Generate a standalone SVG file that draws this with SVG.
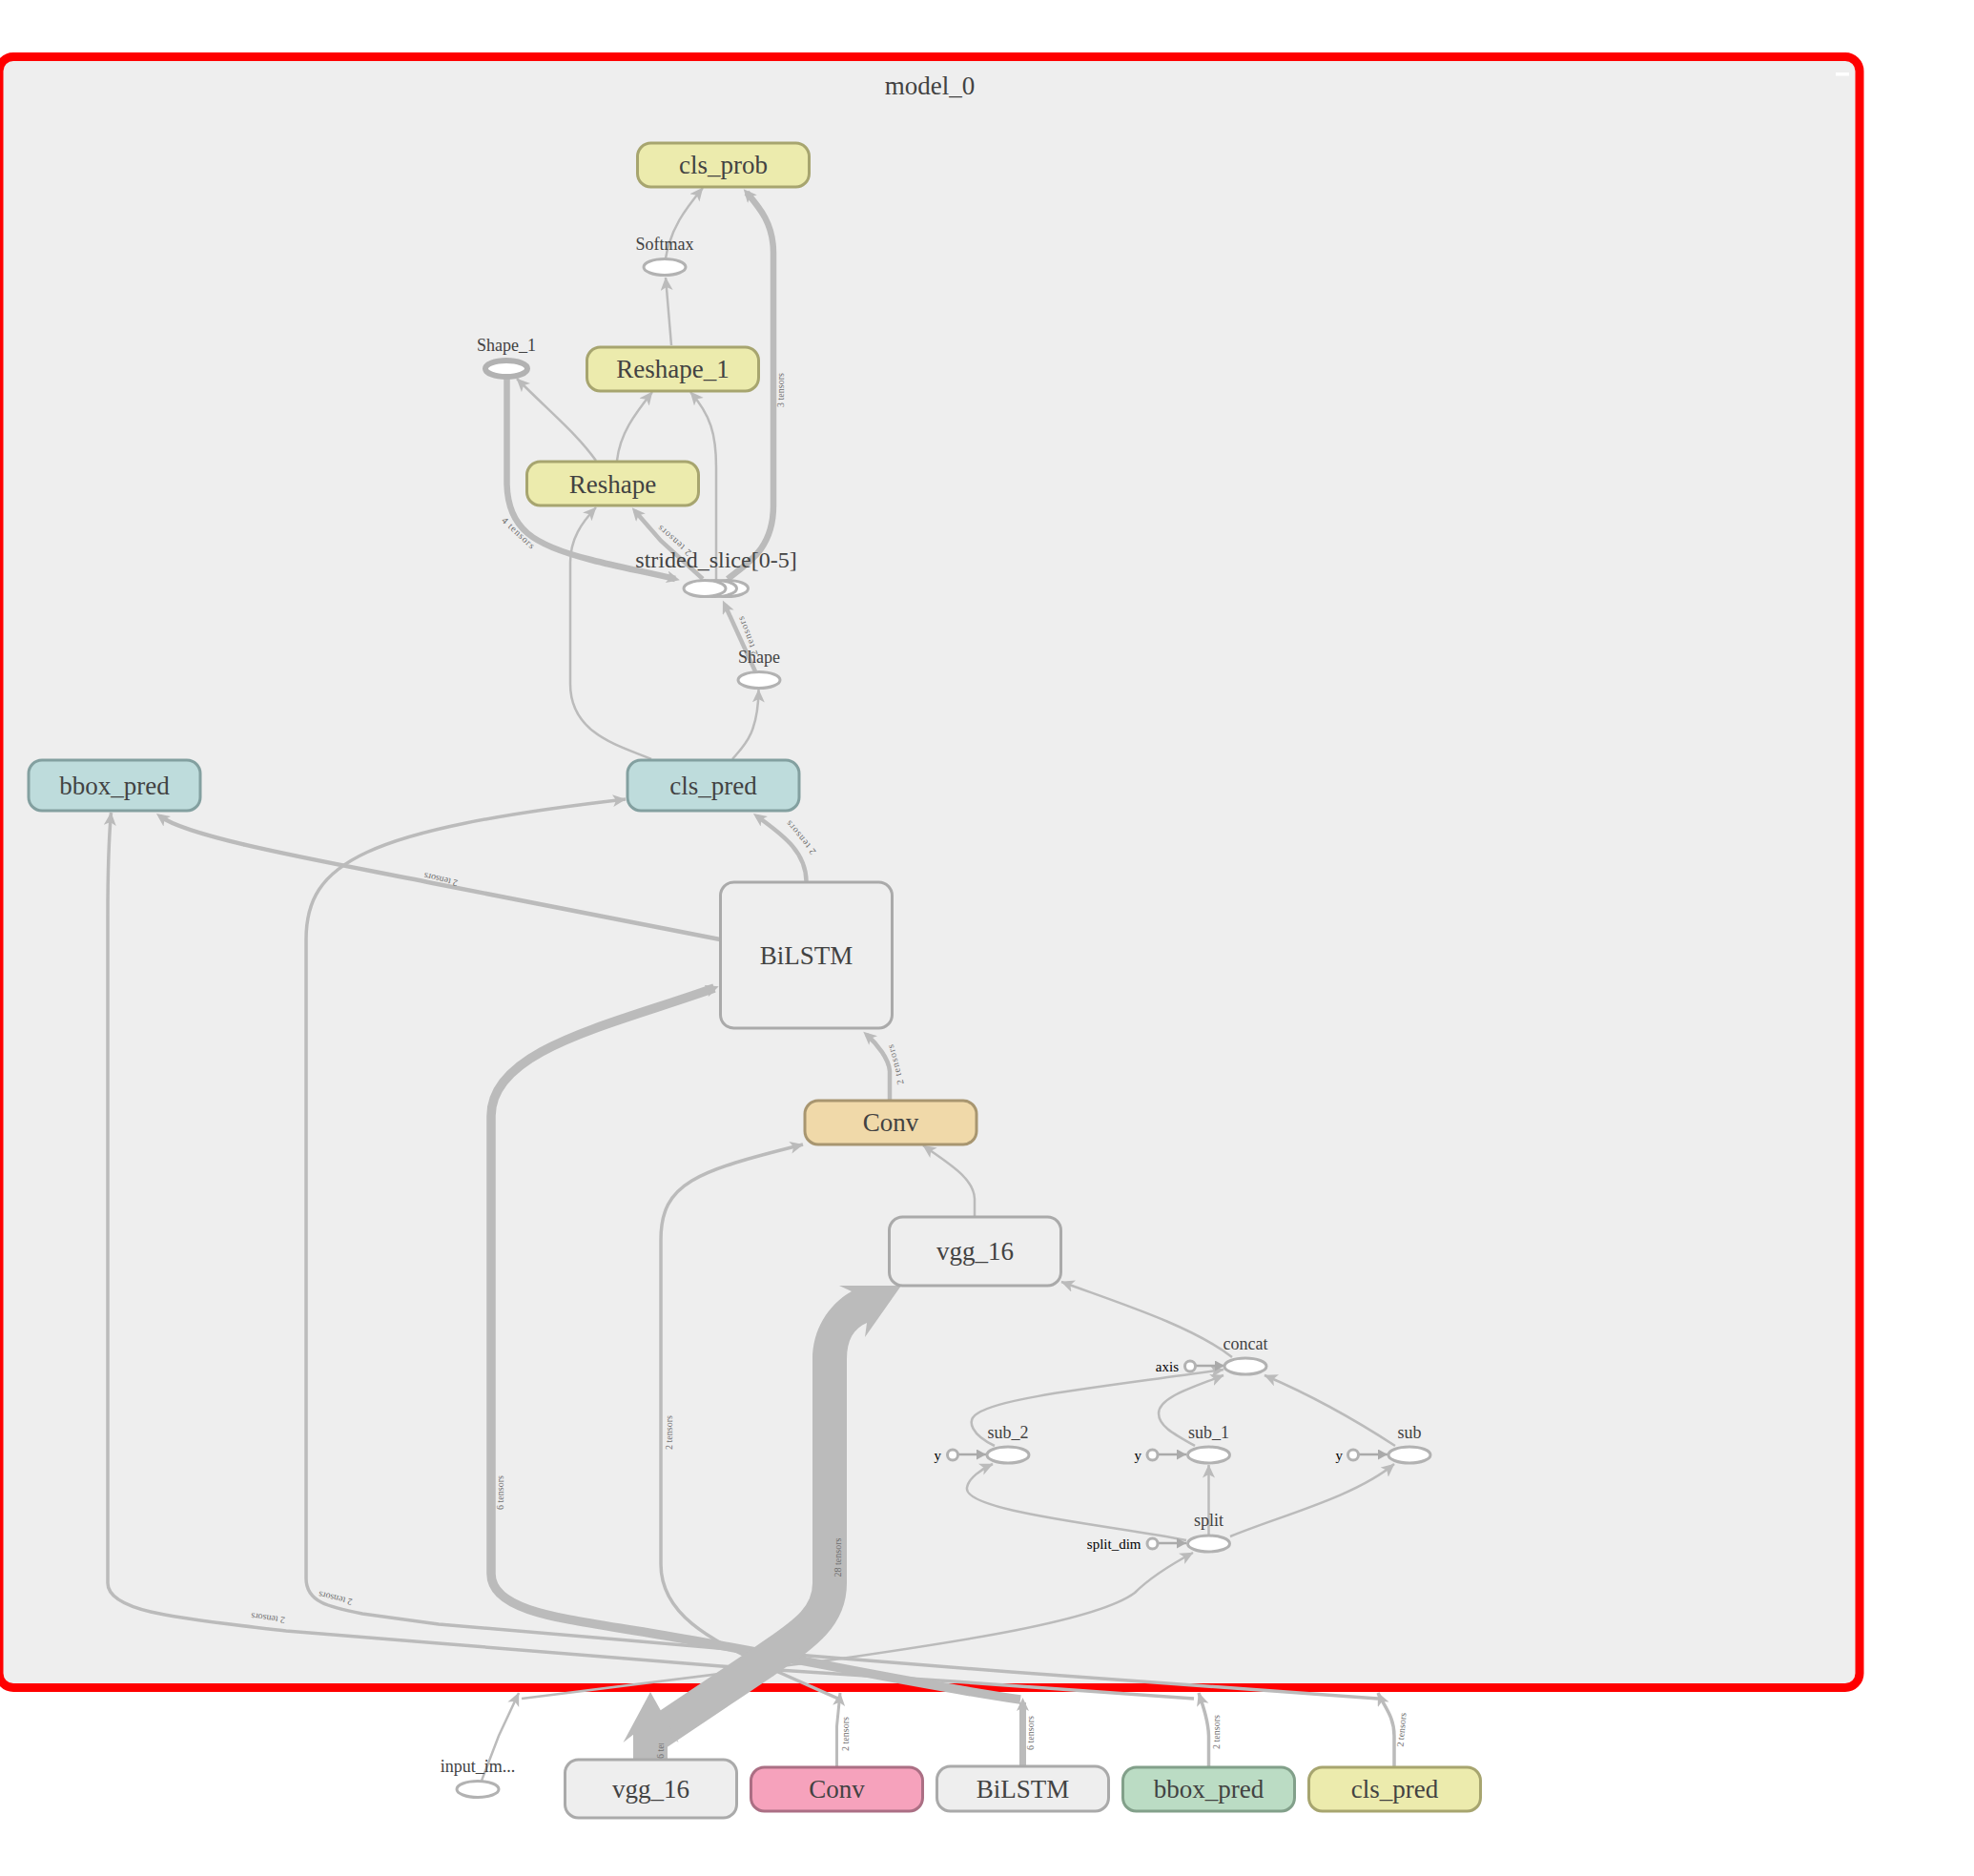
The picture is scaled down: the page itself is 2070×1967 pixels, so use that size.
<svg xmlns="http://www.w3.org/2000/svg" width="2070" height="1967" viewBox="0 0 2070 1967">
<style>
text{font-family:"Liberation Serif","Times New Roman",serif;fill:#424242;text-anchor:middle}
.t27{font-size:27px}.t24{font-size:24px}.t18{font-size:18px}
.ann{font-size:15px;fill:#000;text-anchor:end}
.el{font-size:10px;fill:#6e6e6e}
.wide{letter-spacing:.9px}
.e{fill:none;stroke:#bbb;stroke-width:2.5}
.e3{stroke-width:3.5}
.e4{fill:none;stroke:#bbb;stroke-width:4.5}
.e6{fill:none;stroke:#bbb;stroke-width:6.5}
.e9{fill:none;stroke:#bbb;stroke-width:9.5}
.an{fill:none;stroke:#aaa;stroke-width:2.5}
.n{stroke-width:3}
.grey{fill:#eee;stroke:#aaa}.yel{fill:#ecebad;stroke:#a7a56f}.teal{fill:#bedcdc;stroke:#83a0a0}
.tan{fill:#f0d9a9;stroke:#a89670}.pink{fill:#f6a2bc;stroke:#ab6f84}.green{fill:#bbdcc4;stroke:#82a08a}
.op{fill:#fff;stroke:#b2b2b2;stroke-width:3}
</style>
<defs>
<marker id="a" markerUnits="userSpaceOnUse" markerWidth="15" markerHeight="14" refX="13.5" refY="6.5" orient="auto"><path d="M0,0L14,6.5L0,13L3.5,6.5Z" fill="#bbb"/></marker>
<marker id="b" markerUnits="userSpaceOnUse" markerWidth="15" markerHeight="14" refX="9" refY="6.5" orient="auto"><path d="M0,0L14,6.5L0,13L3.5,6.5Z" fill="#bbb"/></marker>
<marker id="c" markerUnits="userSpaceOnUse" markerWidth="12" markerHeight="12" refX="10" refY="5.5" orient="auto"><path d="M0,0L10,5.5L0,11Z" fill="#aaa"/></marker>
<clipPath id="cut"><rect x="680" y="1828" width="30" height="24"/></clipPath>
</defs>
<g id="model_0">
<rect x="-1" y="59.5" width="1951" height="1710" rx="15" ry="15" fill="#eee" stroke="#f00" stroke-width="9"/>
<rect x="1925" y="76" width="14" height="3.5" fill="#fff"/>
<text class="t27" x="975" y="99">model_0</text>
</g>
<g id="connectors">
<path class="e" d="M704,362L698,291" marker-end="url(#a)"/>
<path class="e" d="M698,271C703,240 718,220 737,197" marker-end="url(#a)"/>
<path class="e6" d="M763,607C785,590 811,575 811,530V265C811,235 797,218 783,202" marker-end="url(#b)"/>
<text class="el" transform="translate(822,409) rotate(-90)">3 tensors</text>
<path class="e" d="M647,483C650,455 665,435 684,411" marker-end="url(#a)"/>
<path class="e" d="M625,483C605,455 580,435 542,397" marker-end="url(#a)"/>
<path class="e" d="M751,608V490C751,455 745,435 724,411" marker-end="url(#a)"/>
<path class="e6" d="M531.5,397V505C531.5,555 560,572 620,587C650,595 680,600 708,607" marker-end="url(#b)"/>
<text class="el wide" transform="translate(541.6,561.5) rotate(43)">4 tensors</text>
<path class="e4" d="M737,607L693,567L666,536" marker-end="url(#b)"/>
<text class="el wide" transform="translate(709,564) rotate(-139)">2 tensors</text>
<path class="e4" d="M792,704L760,634" marker-end="url(#b)"/>
<text class="el wide" transform="translate(787,665.4) rotate(-111)">2 tensors</text>
<path class="e" d="M768,796C780,782 795,770 795.5,723" marker-end="url(#a)"/>
<path class="e" d="M683,796C650,782 598,770 598,717V590C598,565 610,548 625,532" marker-end="url(#a)"/>
<path class="e4" d="M845.5,924C845,895 825,878 794,856" marker-end="url(#b)"/>
<text class="el wide" transform="translate(842,876) rotate(-130)">2 tensors</text>
<path class="e4" d="M755,985L459,927C356,906 201,880 168,856" marker-end="url(#b)"/>
<text class="el" transform="translate(463,919) rotate(-167)">2 tensors</text>
<path class="e4" d="M933,1153V1123C932,1110 920,1095 909,1085" marker-end="url(#b)"/>
<text class="el wide" transform="translate(942,1115) rotate(-105)">2 tensors</text>
<path class="e" d="M1022,1275V1257C1021,1235 995,1220 968,1201" marker-end="url(#a)"/>
<path class="e" d="M1292,1423C1250,1390 1170,1365 1113,1344" marker-end="url(#a)"/>
<path class="e" d="M1043,1516C1020,1505 1012,1490 1025,1482C1050,1465 1150,1455 1283,1436" marker-end="url(#a)"/>
<path class="e" d="M1253,1516C1230,1503 1215,1495 1215,1482C1215,1465 1250,1455 1283,1442" marker-end="url(#a)"/>
<path class="e" d="M1463,1516C1420,1488 1380,1465 1326,1442" marker-end="url(#a)"/>
<path class="e" d="M1267.5,1609V1536" marker-end="url(#a)"/>
<path class="e" d="M1290,1611C1340,1590 1420,1570 1462,1535" marker-end="url(#a)"/>
<path class="e" d="M1244,1615C1170,1600 1010,1585 1014,1560C1015,1550 1030,1540 1041,1535" marker-end="url(#a)"/>
<path class="an" d="M1254,1432H1284" marker-end="url(#c)"/>
<path class="an" d="M1005,1525H1034" marker-end="url(#c)"/>
<path class="an" d="M1215,1525H1244" marker-end="url(#c)"/>
<path class="an" d="M1425,1525H1455" marker-end="url(#c)"/>
<path class="an" d="M1215,1618H1244" marker-end="url(#c)"/>
<path class="e e3" d="M1252,1781L1000,1763L756,1747L460,1723L300,1710C200,1698 113,1692 113,1660V960C113,910 114,880 116.5,852" marker-end="url(#a)"/>
<text class="el" transform="translate(281.5,1693.5) rotate(-172.5)">2 tensors</text>
<path class="e e3" d="M1445,1781L1060,1753L835,1735L460,1703L380,1692C345,1685 321,1680 321,1655V985C321,905 380,870 656,838" marker-end="url(#a)"/>
<text class="el" transform="translate(352.5,1672.6) rotate(-166.5)">2 tensors</text>
<path class="e e3" d="M879,1781L816,1753C760,1725 693,1700 693,1640V1300C693,1240 730,1228 842,1200" marker-end="url(#a)"/>
<text class="el" transform="translate(705,1502) rotate(-90)">2 tensors</text>
<path class="e" d="M547,1781L875,1740C1000,1722 1150,1700 1190,1670C1205,1655 1225,1642 1251,1628" marker-end="url(#a)"/>
<path class="e" d="M505,1867L523,1820L544,1775" marker-end="url(#a)"/>
<path class="e9" d="M1070,1782C950,1765 820,1735 680,1712C590,1697 515,1690 515,1650V1170C515,1100 640,1075 749,1036" marker-end="url(#b)"/>
<text class="el" transform="translate(528,1565) rotate(-90)">6 tensors</text>
<path fill="none" stroke="#bbb" stroke-width="36" d="M682,1845V1822L800,1743C835,1718 870,1700 870,1660V1455"/>
<path fill="#bbb" d="M852,1460V1425C852,1395 868,1368 893,1354L880,1348H945L907,1402L909,1387C895,1393 888,1405 888,1425V1460Z"/>
<text class="el" transform="translate(882,1633) rotate(-90)">28 tensors</text>
<polygon points="682,1774 653.5,1827 665,1818 700,1818 711.6,1827" fill="#bbb"/>
<g clip-path="url(#cut)"><text class="el" style="text-anchor:start" transform="translate(695.5,1849) rotate(-90)">26 tensors</text></g>
<path fill="none" stroke="#bbb" stroke-width="3" d="M877.5,1852V1810L881,1775" marker-end="url(#a)"/>
<text class="el" transform="translate(890,1818) rotate(-90)">2 tensors</text>
<path fill="none" stroke="#bbb" stroke-width="7" d="M1072.5,1851V1785" marker-end="url(#b)"/>
<text class="el" transform="translate(1084,1817) rotate(-90)">6 tensors</text>
<path class="e e3" d="M1267.5,1852V1820C1267,1805 1262,1790 1257,1775" marker-end="url(#a)"/>
<text class="el" transform="translate(1279,1816) rotate(-90)">2 tensors</text>
<path class="e e3" d="M1462,1852V1820C1462,1800 1452,1790 1445,1775" marker-end="url(#a)"/>
<text class="el" transform="translate(1473,1814) rotate(-85)">2 tensors</text>
</g>
<g id="cls_prob"><rect class="n yel" x="668.5" y="150" width="180" height="46" rx="14"/><text class="t27" x="758.5" y="182">cls_prob</text></g>
<g id="Softmax"><text class="t18" x="697" y="262">Softmax</text><ellipse class="op" cx="697" cy="280" rx="22" ry="8.5"/></g>
<g id="Shape_1"><text class="t18" x="531" y="368">Shape_1</text><ellipse cx="531" cy="386.5" rx="22" ry="8.5" fill="#fff" stroke="#b2b2b2" stroke-width="6"/></g>
<g id="Reshape_1"><rect class="n yel" x="615.5" y="364" width="180" height="46" rx="14"/><text class="t27" x="705.5" y="396">Reshape_1</text></g>
<g id="Reshape"><rect class="n yel" x="552.5" y="484" width="180" height="46" rx="14"/><text class="t27" x="642.5" y="517">Reshape</text></g>
<g id="strided_slice"><text class="t24" x="751" y="595">strided_slice[0-5]</text><ellipse class="op" cx="762.5" cy="617" rx="22" ry="8.5"/><ellipse class="op" cx="750.5" cy="617" rx="22" ry="8.5"/><ellipse class="op" cx="739" cy="617" rx="22" ry="8.5"/></g>
<g id="Shape"><text class="t18" x="796" y="695">Shape</text><ellipse class="op" cx="796" cy="713" rx="22" ry="8.5"/></g>
<g id="bbox_pred"><rect class="n teal" x="30" y="797" width="180" height="53" rx="14"/><text class="t27" x="120" y="833">bbox_pred</text></g>
<g id="cls_pred"><rect class="n teal" x="658" y="797" width="180" height="53" rx="14"/><text class="t27" x="748" y="833">cls_pred</text></g>
<g id="BiLSTM"><rect class="n" fill="#eee" stroke="#aaa" x="755.5" y="925" width="180" height="153" rx="14"/><text class="t27" x="845.5" y="1011">BiLSTM</text></g>
<g id="Conv"><rect class="n tan" x="844" y="1154" width="180" height="46" rx="14"/><text class="t27" x="934" y="1186">Conv</text></g>
<g id="vgg_16"><rect class="n grey" x="932.5" y="1276" width="180" height="72" rx="14"/><text class="t27" x="1022.5" y="1321">vgg_16</text></g>
<g id="concat"><text class="t18" x="1306" y="1415">concat</text><ellipse class="op" cx="1306" cy="1432.5" rx="22" ry="8.5"/><circle class="op" cx="1248" cy="1432.5" r="5.5"/><text class="ann" x="1236" y="1438">axis</text></g>
<g id="sub_2"><text class="t18" x="1057" y="1508">sub_2</text><ellipse class="op" cx="1057" cy="1525.5" rx="22" ry="8.5"/><circle class="op" cx="999" cy="1525.5" r="5.5"/><text class="ann" x="987" y="1531">y</text></g>
<g id="sub_1"><text class="t18" x="1267.5" y="1508">sub_1</text><ellipse class="op" cx="1267.5" cy="1525.5" rx="22" ry="8.5"/><circle class="op" cx="1208.5" cy="1525.5" r="5.5"/><text class="ann" x="1197" y="1531">y</text></g>
<g id="sub"><text class="t18" x="1478" y="1508">sub</text><ellipse class="op" cx="1478" cy="1525.5" rx="22" ry="8.5"/><circle class="op" cx="1419" cy="1525.5" r="5.5"/><text class="ann" x="1408" y="1531">y</text></g>
<g id="split"><text class="t18" x="1267.5" y="1600">split</text><ellipse class="op" cx="1267.5" cy="1618.5" rx="22" ry="8.5"/><circle class="op" cx="1208.5" cy="1618.5" r="5.5"/><text class="ann" x="1196.5" y="1624">split_dim</text></g>
<g id="input_im"><text class="t18" x="501" y="1858">input_im...</text><ellipse class="op" cx="501" cy="1876" rx="22" ry="8.5"/></g>
<g id="vgg_16_in"><rect class="n grey" x="592.5" y="1845" width="180" height="61" rx="14"/><text class="t27" x="682.5" y="1885">vgg_16</text></g>
<g id="Conv_in"><rect class="n pink" x="787.5" y="1853" width="180" height="46" rx="14"/><text class="t27" x="877.5" y="1885">Conv</text></g>
<g id="BiLSTM_in"><rect class="n grey" x="982.5" y="1852" width="180" height="47" rx="14"/><text class="t27" x="1072.5" y="1885">BiLSTM</text></g>
<g id="bbox_pred_in"><rect class="n green" x="1177.5" y="1853" width="180" height="46" rx="14"/><text class="t27" x="1267.5" y="1885">bbox_pred</text></g>
<g id="cls_pred_in"><rect class="n yel" x="1372.5" y="1853" width="180" height="46" rx="14"/><text class="t27" x="1462.5" y="1885">cls_pred</text></g>
</svg>
